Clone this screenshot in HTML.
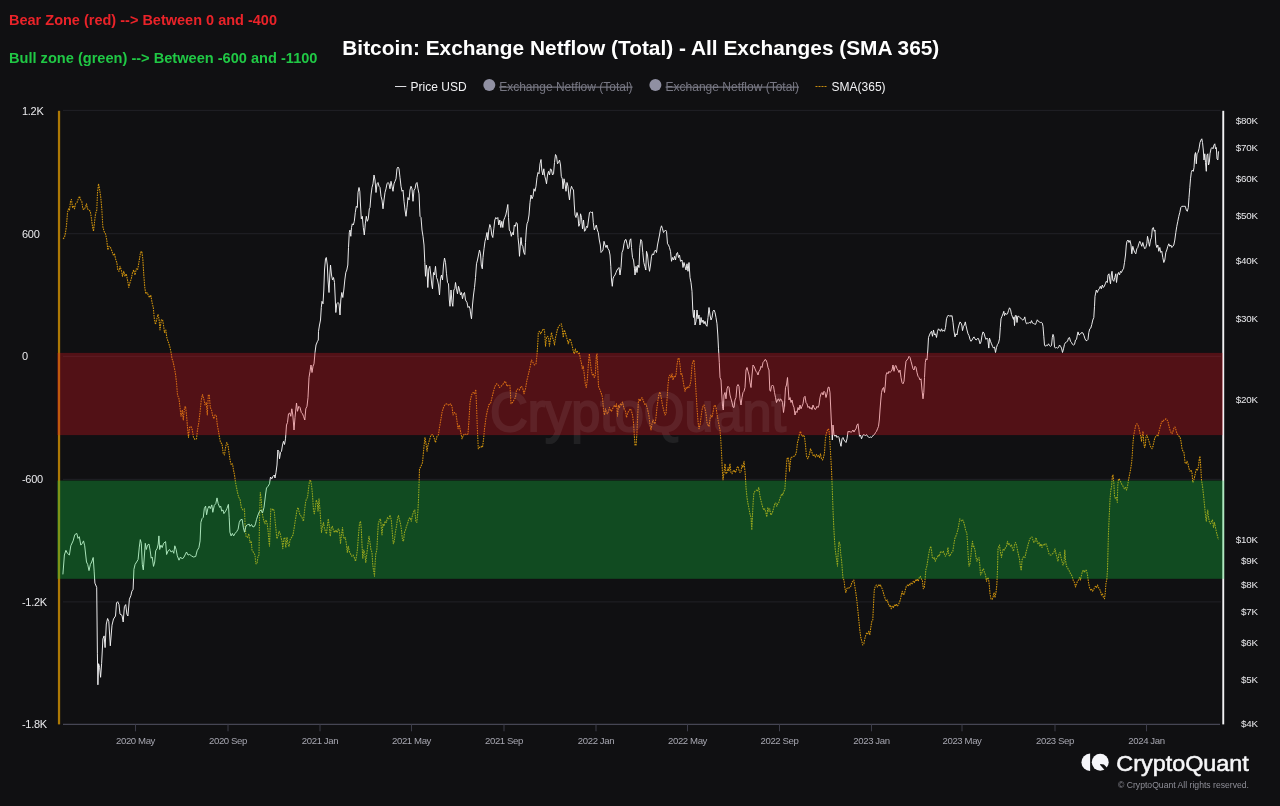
<!DOCTYPE html>
<html><head><meta charset="utf-8"><title>Bitcoin: Exchange Netflow</title>
<style>
html,body{margin:0;padding:0;background:#101012;}
body{width:1280px;height:806px;overflow:hidden;font-family:"Liberation Sans",sans-serif;}
svg{display:block;will-change:transform;}
text{font-family:"Liberation Sans",sans-serif;}
.yl{font-size:11px;fill:#e9e9ec;letter-spacing:-0.3px;}
.yr{font-size:9.8px;fill:#e9e9ec;letter-spacing:-0.22px;text-anchor:end;}
.xl{font-size:9.6px;fill:#a6a6b0;text-anchor:middle;letter-spacing:-0.4px;}
.grid{stroke:#212127;stroke-width:1;}
</style></head><body>
<svg width="1280" height="806" viewBox="0 0 1280 806">
<rect x="0" y="0" width="1280" height="806" fill="#101012"/>

<text x="9" y="24.5" font-size="14.3" font-weight="bold" fill="#ea2329" textLength="268" lengthAdjust="spacingAndGlyphs">Bear Zone (red) --&gt; Between 0 and -400</text>
<text x="9" y="62.6" font-size="14.3" font-weight="bold" fill="#20c845" textLength="308.5" lengthAdjust="spacingAndGlyphs">Bull zone (green) --&gt; Between -600 and -1100</text>
<text x="342.3" y="55" font-size="20.3" font-weight="bold" fill="#ffffff" textLength="597" lengthAdjust="spacingAndGlyphs">Bitcoin: Exchange Netflow (Total) - All Exchanges (SMA 365)</text>
<line x1="395" y1="86.5" x2="406.3" y2="86.5" stroke="#dcdce0" stroke-width="1"/>
<text x="410.6" y="90.8" font-size="12" fill="#f2f2f4">Price USD</text>
<circle cx="489.3" cy="85" r="6" fill="#9090a2"/>
<text x="499.2" y="90.8" font-size="12" fill="#777783" text-decoration="line-through">Exchange Netflow (Total)</text>
<circle cx="655.4" cy="85" r="6" fill="#9090a2"/>
<text x="665.6" y="90.8" font-size="12" fill="#777783" text-decoration="line-through">Exchange Netflow (Total)</text>
<line x1="815.5" y1="86.5" x2="827" y2="86.5" stroke="#c98d0e" stroke-width="1" stroke-dasharray="2 1"/>
<text x="831.6" y="90.8" font-size="12" fill="#f2f2f4">SMA(365)</text>
<line class="grid" x1="63" y1="110.4" x2="1221" y2="110.4"/>
<line class="grid" x1="63" y1="233.7" x2="1221" y2="233.7"/>
<line class="grid" x1="63" y1="356.3" x2="1221" y2="356.3"/>
<line class="grid" x1="63" y1="479.3" x2="1221" y2="479.3"/>
<line class="grid" x1="63" y1="601.9" x2="1221" y2="601.9"/>
<line x1="63" y1="724.4" x2="1220" y2="724.4" stroke="#464654" stroke-width="1.1"/>
<line x1="135.5" y1="724.4" x2="135.5" y2="731.3" stroke="#3c3c49" stroke-width="1"/>
<text class="xl" x="135.5" y="743.9">2020 May</text>
<line x1="228" y1="724.4" x2="228" y2="731.3" stroke="#3c3c49" stroke-width="1"/>
<text class="xl" x="228" y="743.9">2020 Sep</text>
<line x1="320" y1="724.4" x2="320" y2="731.3" stroke="#3c3c49" stroke-width="1"/>
<text class="xl" x="320" y="743.9">2021 Jan</text>
<line x1="411.5" y1="724.4" x2="411.5" y2="731.3" stroke="#3c3c49" stroke-width="1"/>
<text class="xl" x="411.5" y="743.9">2021 May</text>
<line x1="504" y1="724.4" x2="504" y2="731.3" stroke="#3c3c49" stroke-width="1"/>
<text class="xl" x="504" y="743.9">2021 Sep</text>
<line x1="596" y1="724.4" x2="596" y2="731.3" stroke="#3c3c49" stroke-width="1"/>
<text class="xl" x="596" y="743.9">2022 Jan</text>
<line x1="687.5" y1="724.4" x2="687.5" y2="731.3" stroke="#3c3c49" stroke-width="1"/>
<text class="xl" x="687.5" y="743.9">2022 May</text>
<line x1="779.5" y1="724.4" x2="779.5" y2="731.3" stroke="#3c3c49" stroke-width="1"/>
<text class="xl" x="779.5" y="743.9">2022 Sep</text>
<line x1="871.5" y1="724.4" x2="871.5" y2="731.3" stroke="#3c3c49" stroke-width="1"/>
<text class="xl" x="871.5" y="743.9">2023 Jan</text>
<line x1="962" y1="724.4" x2="962" y2="731.3" stroke="#3c3c49" stroke-width="1"/>
<text class="xl" x="962" y="743.9">2023 May</text>
<line x1="1055" y1="724.4" x2="1055" y2="731.3" stroke="#3c3c49" stroke-width="1"/>
<text class="xl" x="1055" y="743.9">2023 Sep</text>
<line x1="1146.5" y1="724.4" x2="1146.5" y2="731.3" stroke="#3c3c49" stroke-width="1"/>
<text class="xl" x="1146.5" y="743.9">2024 Jan</text>
<path d="M63.0 238.8 L64.5 237.5 L65.5 232.5 L66.5 225.5 L67.5 212.5 L68.5 208.8 L69.5 210.0 L70.5 201.3 L71.5 199.5 L72.5 207.5 L73.5 206.3 L74.5 208.8 L75.5 203.8 L77.0 202.5 L78.3 198.8 L79.5 196.3 L80.5 199.5 L81.8 201.3 L82.8 208.8 L84.0 209.5 L85.3 207.5 L86.5 203.8 L87.5 208.8 L89.0 210.0 L90.3 211.3 L91.5 218.8 L92.5 226.3 L93.5 231.3 L94.5 222.5 L95.5 213.8 L96.8 210.0 L97.5 192.5 L98.5 183.8 L99.5 188.8 L100.8 197.5 L101.8 208.8 L102.8 226.3 L104.0 231.3 L105.5 233.8 L106.8 240.0 L107.8 250.0 L109.0 246.3 L110.5 247.5 L112.0 251.3 L113.3 255.0 L114.5 253.8 L115.5 258.8 L116.8 262.5 L117.8 270.0 L119.0 271.3 L120.0 266.3 L121.3 270.0 L122.5 276.3 L123.8 271.3 L125.0 276.3 L126.3 273.8 L127.5 280.0 L128.8 287.5 L130.0 282.5 L131.3 278.8 L132.5 272.5 L133.8 270.0 L135.0 275.0 L136.3 268.8 L137.5 270.0 L138.5 265.0 L139.5 258.8 L140.5 252.5 L141.8 251.3 L142.8 258.8 L143.8 275.0 L144.8 287.5 L145.8 293.8 L147.0 292.5 L148.3 295.0 L149.5 297.5 L150.8 295.0 L152.0 302.5 L153.3 307.5 L154.3 318.8 L155.5 324.5 L156.8 318.8 L158.0 314.5 L159.0 318.8 L160.0 330.0 L161.3 320.0 L162.5 319.5 L163.5 325.0 L164.5 332.5 L165.8 330.0 L166.8 337.5 L168.0 341.3 L169.3 345.0 L170.3 348.8 L171.3 353.8 L172.0 358.8 L173.0 361.3 L174.3 367.5 L175.5 373.8 L176.5 382.5 L177.5 395.0 L179.0 398.8 L180.0 407.5 L181.0 416.3 L182.3 410.0 L183.3 420.0 L184.5 407.5 L185.5 406.3 L186.5 415.0 L187.5 427.5 L188.5 437.5 L189.5 427.5 L191.0 426.3 L192.3 430.0 L193.5 437.5 L195.0 439.5 L196.5 438.8 L197.5 430.0 L198.8 422.5 L200.0 412.5 L201.3 400.0 L202.5 394.5 L203.8 398.8 L205.0 405.0 L206.3 402.5 L207.3 415.0 L208.3 395.0 L209.3 395.0 L210.3 407.5 L211.5 410.0 L212.5 415.0 L213.8 418.8 L215.0 415.0 L216.3 415.5 L217.3 425.0 L218.3 430.0 L219.3 436.3 L220.5 442.5 L222.0 443.8 L223.3 453.8 L224.5 455.0 L225.5 447.5 L226.8 442.5 L228.0 445.0 L229.0 452.5 L230.0 460.0 L231.3 465.0 L232.5 463.8 L233.5 470.0 L234.5 475.0 L235.5 482.5 L236.5 487.5 L237.5 492.5 L238.8 497.5 L240.0 498.8 L241.3 507.5 L243.0 510.0 L244.5 508.8 L245.0 523.8 L246.0 536.3 L247.5 537.5 L248.8 533.8 L250.0 542.5 L251.3 541.3 L252.0 550.0 L253.5 552.5 L255.0 555.0 L255.8 563.8 L257.0 563.8 L258.0 556.3 L259.0 555.0 L259.5 520.0 L260.3 492.5 L261.3 500.0 L262.0 511.3 L263.0 517.5 L264.0 521.3 L265.0 523.8 L266.0 520.0 L267.0 522.5 L268.0 530.0 L269.0 542.5 L269.5 546.3 L270.0 532.5 L270.8 508.8 L272.0 510.0 L273.3 508.8 L274.3 511.3 L275.0 520.0 L276.0 530.0 L276.8 538.8 L278.0 536.3 L279.0 531.3 L280.0 532.5 L281.0 537.5 L282.0 541.3 L282.8 548.8 L283.8 538.8 L284.8 537.5 L285.8 547.5 L287.0 537.5 L288.0 543.8 L289.0 546.3 L290.0 540.0 L291.5 537.5 L293.0 535.0 L294.0 528.8 L295.0 522.5 L296.0 516.3 L297.0 510.0 L298.0 507.5 L299.0 511.3 L300.0 515.0 L301.5 516.3 L302.5 518.8 L303.5 521.3 L304.5 511.3 L305.5 502.5 L306.5 498.8 L307.5 497.5 L308.5 488.8 L309.5 481.3 L310.5 480.0 L311.5 485.0 L312.5 495.0 L313.5 510.0 L314.3 513.8 L315.3 507.5 L316.3 500.0 L317.3 502.5 L318.0 511.3 L319.0 498.8 L320.0 510.0 L320.8 522.5 L321.5 532.5 L322.5 526.3 L323.5 522.5 L324.5 528.8 L325.5 531.3 L326.5 533.8 L327.5 525.0 L328.3 518.8 L329.3 526.3 L330.3 536.3 L331.3 527.5 L332.3 526.3 L333.3 530.0 L334.5 532.5 L335.8 530.0 L337.0 532.5 L338.3 528.8 L339.5 531.3 L340.5 543.8 L341.5 535.0 L342.5 527.5 L343.3 536.3 L344.3 538.8 L345.3 537.5 L346.3 543.8 L347.3 552.5 L348.3 546.3 L349.3 551.3 L350.5 553.8 L351.8 556.3 L353.0 555.0 L354.3 557.5 L355.5 561.3 L356.5 556.3 L357.5 548.8 L358.5 535.0 L359.5 523.8 L360.5 521.3 L361.3 528.8 L362.0 545.0 L362.8 558.8 L363.8 550.0 L364.8 553.8 L365.8 562.5 L366.8 553.8 L367.8 545.0 L369.0 536.3 L370.0 542.5 L371.0 550.0 L372.0 552.5 L372.8 565.0 L373.5 570.0 L374.5 576.3 L375.0 565.0 L375.8 553.8 L376.8 550.0 L377.5 537.5 L378.3 523.8 L379.5 520.0 L380.5 518.8 L381.5 530.0 L382.0 535.0 L383.0 523.8 L384.0 526.3 L385.0 521.3 L386.3 522.5 L387.5 517.5 L388.8 518.8 L390.0 515.0 L391.3 520.0 L392.3 532.5 L393.3 543.8 L394.3 541.3 L395.3 532.5 L396.5 526.3 L397.5 518.8 L398.5 515.5 L399.5 520.0 L400.5 523.8 L401.5 530.0 L402.5 540.0 L403.5 541.3 L404.5 532.5 L405.5 530.0 L406.5 526.3 L407.5 523.8 L408.8 518.8 L410.0 517.5 L411.3 521.3 L412.5 515.0 L413.8 511.3 L414.8 510.0 L415.8 521.3 L416.8 522.5 L417.8 512.5 L418.5 500.0 L419.0 485.0 L419.5 468.8 L421.0 466.3 L422.5 462.5 L423.3 453.8 L424.0 446.3 L425.0 437.5 L426.0 443.8 L427.0 451.3 L428.0 445.0 L429.5 440.0 L431.0 435.0 L432.5 434.5 L434.0 437.5 L435.5 442.5 L437.0 436.3 L438.5 434.5 L439.5 427.5 L440.8 420.0 L442.0 412.5 L443.5 407.5 L445.0 404.5 L447.0 403.8 L449.0 405.5 L450.5 403.8 L452.0 406.3 L453.0 415.0 L454.5 412.5 L456.0 413.8 L457.0 421.3 L458.0 428.8 L459.3 425.0 L460.5 431.3 L462.0 438.8 L463.5 435.0 L465.0 433.8 L466.5 435.0 L468.0 433.8 L469.0 420.0 L470.0 402.5 L471.5 395.0 L473.0 392.5 L474.5 393.8 L475.8 389.5 L476.5 405.0 L477.3 427.5 L478.3 448.8 L479.5 447.5 L481.0 446.3 L482.5 447.5 L483.5 440.0 L484.5 428.8 L486.0 417.5 L487.5 410.0 L489.0 404.5 L490.5 403.8 L492.0 397.5 L493.5 391.3 L495.0 386.3 L496.5 383.8 L498.0 384.5 L499.5 387.5 L501.0 386.3 L502.5 385.0 L504.0 382.5 L505.5 381.3 L507.0 386.3 L508.5 385.0 L510.0 385.5 L511.0 403.8 L512.5 402.5 L514.0 400.0 L515.5 397.5 L516.5 390.0 L518.0 388.8 L519.5 390.0 L521.0 386.3 L522.5 387.5 L524.0 393.8 L525.5 388.8 L527.0 380.0 L528.5 373.8 L530.0 367.5 L531.5 360.0 L533.0 362.5 L534.5 365.0 L536.0 363.8 L537.0 355.0 L538.0 340.0 L538.3 332.5 L539.5 331.3 L540.8 333.8 L542.0 331.3 L543.3 328.8 L544.5 330.0 L545.5 346.3 L546.5 337.5 L547.5 336.3 L548.5 337.5 L549.5 346.3 L550.5 338.8 L551.5 332.5 L552.5 337.5 L553.5 340.0 L554.5 345.0 L555.5 337.5 L556.5 333.8 L557.5 328.8 L558.8 326.3 L560.0 325.0 L561.3 323.8 L562.3 328.8 L563.3 337.5 L564.3 330.0 L565.3 332.5 L566.3 336.3 L567.3 340.0 L568.3 343.8 L569.3 340.0 L570.3 338.8 L571.3 342.5 L572.3 346.3 L573.3 351.3 L574.3 353.8 L575.3 348.8 L576.3 352.5 L577.3 351.3 L578.3 353.8 L579.3 352.5 L580.3 358.8 L581.3 362.5 L582.3 368.8 L583.3 366.3 L584.3 375.0 L585.3 383.8 L586.3 387.5 L587.3 380.0 L588.3 365.0 L589.3 353.8 L590.3 362.5 L591.3 370.0 L592.3 375.0 L593.3 373.8 L594.3 377.5 L595.3 375.0 L596.3 356.3 L597.0 353.8 L597.8 370.0 L598.5 386.3 L599.5 388.8 L600.5 391.3 L601.5 393.8 L602.5 397.5 L603.5 410.0 L604.5 415.0 L605.5 408.8 L606.5 412.5 L607.5 413.8 L608.5 411.3 L609.5 407.5 L610.5 410.0 L611.5 411.3 L612.5 408.8 L613.5 407.5 L614.5 405.0 L615.5 407.5 L616.5 403.8 L617.5 416.3 L618.5 405.0 L619.5 407.5 L620.5 403.8 L621.5 405.0 L622.5 402.0 L623.5 406.3 L624.5 410.0 L625.5 411.3 L626.5 417.5 L627.5 413.8 L628.5 411.3 L629.5 410.0 L630.5 408.8 L631.5 411.3 L632.5 415.0 L633.5 422.5 L634.3 435.0 L635.0 445.0 L636.0 445.5 L636.8 435.0 L637.5 420.0 L638.3 402.5 L639.0 398.8 L640.0 401.3 L641.0 398.8 L642.0 397.5 L643.0 400.0 L644.0 402.5 L645.0 405.0 L646.0 403.8 L647.0 407.5 L648.0 411.3 L649.0 416.3 L650.0 425.0 L651.0 430.0 L652.0 423.8 L653.0 420.0 L654.0 422.5 L655.0 423.8 L656.0 417.5 L657.0 407.5 L658.0 400.0 L659.0 393.8 L660.0 392.0 L661.0 396.3 L662.0 402.5 L663.0 407.5 L664.0 411.3 L665.0 415.0 L666.0 413.8 L667.0 400.0 L668.0 385.0 L669.0 376.3 L670.0 375.0 L671.0 377.5 L672.0 373.8 L673.0 380.0 L674.0 376.3 L675.0 377.5 L676.0 375.0 L677.0 365.0 L678.0 358.8 L679.0 358.0 L680.0 365.0 L681.0 375.0 L682.0 373.8 L683.0 380.0 L684.0 386.3 L685.0 391.3 L686.0 387.5 L687.0 388.8 L688.0 386.3 L689.0 387.5 L690.0 385.0 L691.0 380.0 L692.0 365.0 L693.0 361.3 L694.0 360.0 L695.0 375.0 L696.0 391.3 L697.0 407.5 L698.0 421.3 L699.0 428.8 L700.0 425.0 L701.0 417.5 L702.0 410.0 L703.0 406.3 L704.0 405.0 L705.0 408.8 L706.0 413.8 L707.0 422.5 L708.0 425.0 L709.0 426.3 L710.0 418.8 L711.0 415.0 L712.0 417.5 L713.0 412.5 L714.0 406.3 L715.0 405.0 L716.0 407.5 L717.0 413.8 L718.0 420.0 L719.0 425.0 L720.0 430.0 L720.8 440.0 L721.5 452.5 L722.3 470.0 L723.0 480.0 L724.0 472.5 L725.0 463.8 L726.0 473.8 L727.0 472.5 L728.0 467.5 L729.0 471.3 L730.0 463.8 L731.0 472.5 L732.0 473.8 L733.0 471.3 L734.0 470.0 L735.0 472.5 L736.0 471.3 L737.0 467.5 L738.0 466.3 L739.0 470.0 L740.0 472.5 L741.0 471.3 L742.0 465.0 L743.0 467.5 L744.0 461.3 L745.3 475.0 L746.0 487.5 L747.0 497.5 L748.0 503.8 L749.0 508.8 L750.0 513.8 L751.0 517.5 L751.8 530.0 L752.5 515.0 L753.3 500.0 L754.0 492.5 L755.0 491.3 L756.3 490.0 L757.5 491.3 L758.8 487.5 L759.8 495.0 L760.8 500.0 L761.8 503.8 L762.8 507.5 L763.8 510.0 L764.8 508.8 L765.8 512.5 L766.8 517.0 L767.8 507.5 L768.8 511.3 L769.8 508.8 L770.8 515.0 L771.8 513.8 L772.8 511.3 L773.8 507.5 L774.8 503.8 L775.8 503.0 L776.8 506.3 L777.8 503.8 L778.8 502.5 L779.8 498.8 L780.8 496.3 L781.8 493.8 L782.8 495.0 L783.8 491.3 L784.8 490.0 L785.5 480.0 L786.3 467.5 L787.0 458.8 L788.0 457.5 L788.8 461.3 L789.5 471.3 L790.3 462.5 L791.0 457.5 L792.5 457.0 L794.0 456.3 L795.5 455.0 L796.5 451.3 L797.5 442.5 L798.5 438.8 L799.5 433.8 L800.5 431.3 L801.5 435.0 L802.5 436.3 L803.5 435.0 L804.5 437.0 L805.5 445.0 L806.5 456.3 L807.8 458.8 L808.8 456.3 L809.8 452.5 L810.5 448.8 L811.5 451.3 L812.5 453.8 L813.5 456.3 L814.5 455.0 L815.5 457.0 L816.5 454.5 L817.5 456.3 L818.5 455.0 L819.5 457.5 L820.5 453.8 L821.5 458.8 L822.5 460.0 L823.5 457.5 L824.5 452.5 L825.3 440.0 L826.0 435.0 L827.0 431.3 L828.0 428.8 L829.0 430.0 L829.8 440.0 L830.8 457.5 L831.5 470.0 L832.3 490.0 L833.0 510.0 L833.8 527.5 L834.5 540.0 L835.3 550.0 L836.0 555.0 L836.8 561.3 L837.5 566.3 L838.3 550.0 L839.0 542.0 L840.0 543.8 L840.8 555.0 L841.5 560.0 L842.3 570.0 L843.0 578.8 L844.0 580.0 L844.8 587.5 L845.8 592.5 L846.8 588.8 L847.8 587.5 L848.8 588.0 L849.8 587.5 L850.8 586.3 L851.8 582.5 L852.8 581.3 L853.8 580.0 L854.8 586.3 L855.8 592.5 L856.8 600.0 L857.8 610.0 L858.8 620.0 L859.8 630.0 L860.8 637.5 L861.8 641.3 L862.8 645.0 L863.8 643.8 L864.8 638.8 L865.8 635.0 L866.8 632.5 L867.8 633.8 L868.8 631.3 L869.8 635.0 L870.8 627.5 L871.8 621.3 L872.8 620.0 L873.5 605.0 L874.3 590.0 L875.3 586.3 L876.3 585.0 L877.3 587.0 L878.3 585.0 L879.3 586.3 L880.3 584.5 L881.3 587.5 L882.3 588.8 L883.3 592.5 L884.3 596.3 L885.3 598.8 L886.3 601.3 L887.3 600.0 L888.3 603.8 L889.3 606.3 L890.3 605.0 L891.3 608.8 L892.3 606.3 L893.3 607.5 L894.3 605.0 L895.3 606.3 L896.3 603.8 L897.3 606.3 L898.3 605.0 L899.3 602.5 L900.3 600.0 L901.3 595.0 L902.3 591.3 L903.3 595.0 L904.3 593.8 L905.3 590.0 L906.3 586.3 L907.3 585.0 L908.3 586.3 L909.3 583.8 L910.3 585.0 L911.3 582.5 L912.3 583.8 L913.3 581.3 L914.3 582.5 L915.3 580.0 L916.3 581.3 L917.3 578.8 L918.3 581.3 L919.3 577.5 L920.3 576.3 L921.3 578.8 L922.3 580.0 L923.3 588.8 L924.3 587.5 L925.0 580.0 L925.8 570.0 L926.8 566.3 L927.8 560.0 L928.8 553.8 L929.8 548.8 L930.8 546.3 L931.5 550.0 L932.3 557.5 L933.3 558.8 L934.3 557.5 L935.3 561.3 L936.3 558.8 L937.3 557.5 L938.3 555.0 L939.3 556.3 L940.3 552.5 L941.3 551.3 L942.3 552.5 L943.3 551.3 L944.3 553.8 L945.3 556.3 L946.3 555.0 L947.3 552.5 L948.0 547.5 L948.8 555.0 L949.8 556.3 L950.8 553.8 L951.8 552.5 L952.8 551.3 L953.8 545.0 L954.8 538.8 L955.8 536.3 L956.8 533.8 L957.8 530.0 L958.8 525.0 L959.8 518.8 L960.8 520.0 L961.8 521.3 L962.8 520.0 L963.8 522.5 L964.8 526.3 L965.8 531.3 L966.8 532.5 L967.5 542.5 L968.3 557.5 L969.0 566.3 L970.0 563.8 L971.0 555.0 L971.8 546.3 L972.5 541.3 L973.3 547.5 L974.0 546.3 L975.0 550.0 L976.0 557.5 L977.0 561.3 L978.0 558.8 L979.0 557.5 L979.8 565.0 L980.5 575.0 L981.5 573.8 L982.5 570.0 L983.5 568.8 L984.5 572.5 L985.5 575.0 L986.5 581.3 L987.5 577.5 L988.5 578.8 L989.3 585.0 L990.0 593.8 L991.0 598.8 L992.0 599.5 L993.0 597.5 L994.0 592.5 L995.0 597.5 L996.0 592.5 L996.8 585.0 L997.5 570.0 L998.0 548.8 L998.8 546.3 L999.5 545.0 L1000.5 552.5 L1001.5 557.5 L1002.5 551.3 L1003.5 548.8 L1004.5 550.0 L1005.5 547.5 L1006.5 546.3 L1007.5 541.3 L1008.5 545.0 L1009.5 543.8 L1010.5 546.3 L1011.5 545.0 L1012.5 548.8 L1013.5 551.3 L1014.5 545.0 L1015.5 542.5 L1016.5 545.0 L1017.5 550.0 L1018.5 555.0 L1019.5 558.8 L1020.5 567.5 L1021.3 570.5 L1022.0 560.0 L1023.0 557.5 L1024.0 556.3 L1025.0 557.5 L1026.0 552.5 L1027.0 548.8 L1028.0 545.0 L1029.0 541.3 L1030.0 538.8 L1031.0 537.5 L1032.0 537.0 L1033.0 540.0 L1034.0 542.5 L1035.0 541.3 L1036.0 537.5 L1037.0 541.3 L1038.0 543.8 L1039.0 542.5 L1040.0 546.3 L1041.0 543.8 L1042.0 547.5 L1043.0 545.0 L1044.0 543.8 L1045.0 545.0 L1046.0 543.8 L1047.0 546.3 L1048.0 550.0 L1049.0 553.8 L1050.0 555.0 L1051.3 555.0 L1052.5 553.8 L1053.8 552.5 L1055.0 548.8 L1056.0 553.8 L1057.0 557.5 L1058.0 561.3 L1059.0 553.8 L1060.0 552.5 L1061.0 557.5 L1062.0 561.3 L1063.0 565.0 L1064.0 562.5 L1064.8 550.0 L1065.5 560.0 L1066.5 566.3 L1067.5 567.5 L1068.5 570.0 L1069.5 571.3 L1070.5 573.8 L1071.5 575.0 L1072.5 577.5 L1073.5 581.3 L1074.5 582.5 L1075.5 587.0 L1076.5 583.8 L1077.5 581.3 L1078.5 580.0 L1079.5 577.5 L1080.5 580.0 L1081.5 575.0 L1082.5 571.3 L1083.5 570.0 L1084.5 572.5 L1085.5 570.0 L1086.5 570.5 L1087.5 575.0 L1088.5 582.5 L1089.5 587.5 L1090.5 590.0 L1091.5 588.8 L1092.5 591.3 L1093.5 590.0 L1094.5 587.5 L1095.5 586.3 L1096.5 587.5 L1097.5 585.0 L1098.5 587.5 L1099.5 588.8 L1100.5 591.3 L1101.5 595.0 L1102.5 593.8 L1103.5 597.5 L1104.5 598.8 L1105.3 592.5 L1106.0 582.5 L1106.8 580.0 L1107.5 570.0 L1108.0 550.0 L1108.5 532.5 L1109.3 515.0 L1110.0 500.0 L1110.8 490.0 L1111.5 487.5 L1112.3 476.3 L1113.0 475.0 L1113.8 482.5 L1114.5 496.3 L1115.5 498.8 L1116.5 497.5 L1117.3 502.5 L1117.8 485.0 L1118.5 478.8 L1119.5 479.5 L1120.5 481.3 L1121.5 483.8 L1122.5 485.0 L1123.5 487.5 L1124.5 488.8 L1125.5 487.5 L1126.5 490.0 L1127.5 486.3 L1128.5 480.0 L1129.5 475.0 L1130.5 470.0 L1131.5 463.8 L1132.3 455.0 L1133.0 442.5 L1133.8 435.0 L1134.8 430.0 L1135.8 425.0 L1136.8 423.8 L1137.8 424.5 L1138.8 427.5 L1139.8 432.5 L1140.8 436.3 L1141.5 441.3 L1142.3 435.0 L1143.0 431.3 L1143.8 442.5 L1144.5 447.5 L1145.3 446.3 L1146.0 436.3 L1147.0 435.0 L1148.0 438.8 L1149.0 441.3 L1150.0 445.0 L1151.0 447.5 L1152.0 448.8 L1153.0 446.3 L1154.0 441.3 L1155.0 437.5 L1156.0 436.3 L1157.0 435.0 L1158.0 436.3 L1159.0 431.3 L1160.0 427.5 L1161.0 423.8 L1162.0 421.3 L1163.0 422.0 L1164.0 420.0 L1165.0 419.5 L1166.0 418.8 L1167.0 420.0 L1168.0 421.3 L1169.0 426.3 L1170.0 430.0 L1171.0 432.5 L1172.0 433.8 L1173.0 431.3 L1174.0 427.5 L1175.0 427.0 L1176.0 430.0 L1177.0 433.8 L1178.0 435.0 L1179.0 436.3 L1180.0 437.0 L1181.0 441.3 L1182.0 448.8 L1183.0 451.3 L1184.0 452.5 L1185.0 462.5 L1186.0 463.8 L1187.0 461.3 L1188.0 463.8 L1189.0 468.8 L1190.0 471.3 L1191.0 470.0 L1192.0 472.5 L1192.8 482.5 L1193.5 481.3 L1194.5 477.5 L1195.5 472.5 L1196.5 468.8 L1197.5 470.0 L1198.5 466.3 L1199.3 458.8 L1200.0 456.3 L1200.8 467.5 L1201.5 480.0 L1202.5 486.3 L1203.5 495.0 L1204.5 505.0 L1205.5 515.0 L1206.3 521.3 L1207.0 515.0 L1207.8 510.0 L1208.5 517.5 L1209.5 522.5 L1210.5 523.8 L1211.5 521.3 L1212.5 520.0 L1213.5 527.5 L1214.5 522.5 L1215.5 527.5 L1216.5 532.5 L1217.5 536.3 L1218.5 539.5" fill="none" stroke="#d2950e" stroke-width="1.05" stroke-dasharray="1.6 0.9" stroke-linejoin="round"/>
<path d="M62.9 574.4 L64.4 555.0 L65.9 550.3 L67.4 553.3 L69.4 555.0 L70.8 545.8 L73.1 540.9 L74.8 534.7 L76.8 533.4 L78.0 538.4 L79.3 536.7 L80.8 545.1 L82.3 543.4 L83.5 540.9 L84.7 545.8 L86.5 562.0 L87.7 564.4 L89.0 570.6 L90.4 564.4 L91.7 562.0 L93.2 557.5 L94.2 571.9 L94.9 583.1 L96.7 587.3 L97.4 653.8 L97.9 684.8 L98.6 663.7 L99.6 667.4 L100.6 677.3 L101.6 663.7 L102.9 638.9 L104.1 635.9 L105.1 647.6 L106.3 624.0 L107.6 618.5 L108.8 621.5 L110.3 645.8 L112.0 625.2 L113.5 619.0 L115.5 616.0 L116.5 602.9 L117.7 601.7 L119.0 604.6 L120.0 614.1 L122.0 615.3 L123.2 622.0 L124.4 606.6 L125.7 604.6 L126.9 614.1 L127.9 616.0 L129.4 599.2 L130.9 595.5 L131.9 591.2 L133.1 589.3 L133.9 569.4 L135.1 564.4 L136.6 562.0 L138.1 559.5 L139.3 547.1 L140.3 539.6 L141.3 543.3 L142.3 564.4 L143.3 569.9 L144.3 557.0 L145.3 543.3 L146.3 549.5 L147.5 545.1 L149.0 544.1 L150.2 550.8 L151.2 558.2 L152.2 557.0 L153.5 566.4 L154.7 562.0 L155.7 550.8 L157.2 548.3 L158.2 544.1 L158.9 535.9 L159.7 549.5 L160.9 545.1 L162.2 547.6 L163.6 543.3 L165.6 541.6 L166.6 554.5 L168.1 550.8 L169.6 549.5 L171.1 552.0 L172.6 550.8 L173.8 553.3 L174.8 545.8 L176.1 549.5 L177.3 555.8 L179.0 560.2 L180.5 557.0 L182.3 559.0 L184.0 557.0 L185.5 554.0 L186.5 552.0 L188.0 555.0 L189.7 554.5 L191.4 555.8 L193.4 557.0 L195.7 556.5 L197.1 550.8 L198.9 547.6 L200.1 540.9 L200.9 522.3 L202.1 518.5 L203.3 517.3 L204.3 508.6 L205.6 506.1 L206.6 514.8 L207.8 508.6 L209.1 506.1 L210.3 508.6 L211.8 504.9 L212.8 512.3 L214.3 505.4 L215.8 503.6 L217.0 497.9 L218.2 503.6 L219.7 507.4 L220.7 506.1 L221.7 511.1 L223.0 509.9 L223.9 513.6 L225.7 511.1 L226.9 508.6 L228.4 504.4 L229.2 517.3 L229.9 532.2 L231.1 535.9 L232.4 533.4 L233.6 535.9 L235.1 533.4 L236.6 531.7 L238.1 529.2 L239.3 522.3 L240.6 519.8 L242.1 519.3 L243.3 527.2 L244.5 532.2 L246.0 526.0 L247.5 524.7 L249.3 524.2 L250.0 526.3 L251.5 524.5 L253.0 527.0 L254.5 526.3 L255.5 523.8 L256.5 519.5 L258.0 515.0 L259.5 511.3 L261.0 510.0 L262.5 513.0 L264.0 507.5 L265.5 495.0 L266.5 488.0 L268.0 486.3 L269.5 483.8 L270.5 477.0 L271.8 478.8 L273.0 476.3 L274.3 475.0 L275.0 478.0 L276.0 472.5 L277.0 465.0 L277.8 450.0 L278.8 451.3 L279.5 458.8 L280.5 452.5 L281.5 451.3 L282.5 445.0 L283.5 441.3 L284.5 444.5 L285.5 438.8 L286.5 425.0 L287.5 422.5 L288.5 413.8 L289.8 413.0 L290.8 416.3 L291.8 408.8 L292.8 415.0 L294.0 430.0 L295.0 417.5 L296.5 403.0 L297.5 411.3 L298.8 406.3 L300.0 407.5 L301.3 412.5 L302.5 413.8 L303.5 416.3 L304.8 420.0 L305.8 408.8 L307.0 406.3 L308.0 397.5 L309.0 377.5 L310.0 371.3 L311.0 365.0 L312.0 372.5 L313.0 366.3 L314.0 363.8 L315.0 352.5 L316.0 345.0 L317.5 341.3 L318.3 340.0 L318.5 331.3 L319.5 325.0 L320.5 320.0 L321.3 307.5 L322.0 301.3 L323.0 303.8 L323.8 290.0 L324.5 270.0 L325.5 258.8 L326.3 257.5 L327.3 265.0 L328.0 280.0 L329.0 292.5 L329.8 275.0 L330.5 265.0 L331.5 275.0 L332.5 280.0 L333.5 277.5 L334.5 282.5 L335.3 300.0 L335.8 312.5 L336.8 303.8 L338.0 302.5 L339.0 303.8 L340.0 315.0 L340.8 300.0 L341.8 292.5 L342.8 297.5 L343.8 290.0 L344.8 280.0 L345.8 272.5 L346.8 270.0 L347.8 265.0 L348.5 247.5 L349.3 232.5 L350.0 230.0 L350.8 236.3 L351.5 227.5 L352.3 223.8 L353.3 225.0 L354.3 221.3 L355.3 212.5 L356.3 206.3 L357.3 207.5 L358.0 192.5 L359.0 187.5 L359.8 191.3 L360.5 205.0 L361.3 218.8 L362.3 216.3 L363.3 227.5 L364.3 235.0 L365.3 223.8 L366.3 216.3 L367.3 221.3 L368.3 218.8 L369.3 208.8 L370.0 207.5 L371.0 195.0 L372.0 187.5 L373.0 183.8 L374.0 175.0 L375.0 180.0 L376.0 192.5 L377.0 183.8 L378.0 182.5 L379.0 186.3 L380.0 187.5 L381.0 196.3 L382.0 200.0 L383.0 208.8 L384.0 200.0 L385.0 192.5 L386.0 188.8 L387.0 183.8 L388.0 182.5 L389.0 183.8 L390.0 188.8 L391.0 181.3 L392.0 186.3 L393.0 191.3 L394.0 183.8 L395.0 181.3 L396.0 178.8 L397.0 168.8 L398.0 167.0 L399.0 168.8 L400.0 177.5 L401.0 186.3 L402.0 191.3 L403.0 190.0 L404.0 201.3 L405.0 210.0 L406.0 216.3 L407.0 207.5 L408.0 197.5 L409.0 200.0 L410.0 190.0 L411.0 186.3 L412.0 188.8 L413.0 201.3 L414.0 190.0 L415.0 188.8 L416.0 183.8 L417.0 182.5 L418.0 188.8 L419.0 193.8 L420.0 216.3 L421.0 217.5 L422.0 230.0 L423.0 236.3 L424.0 245.0 L424.8 262.5 L425.5 276.3 L426.3 265.0 L427.0 270.0 L427.8 287.5 L428.8 268.8 L429.8 266.3 L430.8 275.0 L431.8 285.0 L432.5 288.8 L433.5 272.5 L434.5 275.0 L435.5 266.3 L436.5 277.5 L437.5 280.0 L438.5 285.0 L439.5 295.0 L440.5 278.8 L441.5 275.0 L442.5 280.0 L443.5 265.0 L444.5 258.0 L445.5 262.5 L446.5 273.8 L447.5 282.5 L448.5 283.8 L449.3 300.0 L450.0 306.3 L451.0 290.0 L452.0 302.5 L452.8 306.3 L453.8 290.0 L454.8 288.8 L455.5 282.5 L456.5 288.8 L457.5 293.8 L458.5 286.3 L459.5 290.0 L460.5 295.0 L461.5 292.5 L462.5 298.8 L463.5 293.8 L464.5 292.5 L465.5 300.0 L467.0 302.5 L468.0 307.5 L469.0 306.3 L470.0 308.8 L470.8 315.0 L471.5 318.8 L472.5 305.0 L473.5 295.0 L474.5 287.5 L475.5 277.5 L476.5 263.8 L477.5 260.0 L478.5 255.0 L479.5 250.0 L480.5 253.8 L481.3 265.0 L482.3 268.8 L483.0 257.5 L484.0 248.8 L485.0 241.3 L486.0 237.5 L487.0 232.5 L487.8 240.0 L488.8 230.0 L489.8 224.5 L490.8 227.5 L491.8 235.0 L492.8 237.5 L493.8 228.8 L494.8 220.0 L495.8 217.5 L496.8 218.8 L497.8 217.5 L498.8 225.0 L499.8 220.0 L500.8 227.5 L501.8 221.3 L502.8 227.5 L503.8 220.0 L504.8 217.5 L505.8 215.0 L506.8 210.0 L507.8 204.5 L508.5 217.5 L509.3 230.0 L510.3 231.3 L511.3 236.3 L512.3 232.5 L513.3 235.0 L514.3 225.0 L515.3 226.3 L516.3 222.5 L517.3 223.8 L518.0 237.5 L518.8 245.0 L519.5 256.3 L520.3 245.0 L521.0 237.5 L521.8 245.0 L522.8 246.3 L523.8 252.5 L524.8 254.5 L525.5 242.5 L526.3 230.0 L527.0 223.8 L528.0 221.3 L529.0 215.0 L530.0 202.5 L531.0 195.0 L532.0 198.8 L533.0 196.3 L534.0 188.8 L535.0 191.3 L536.0 186.3 L537.0 177.5 L538.0 172.5 L539.0 173.8 L540.0 163.8 L541.0 159.5 L541.8 170.0 L542.8 175.0 L543.8 168.8 L544.8 176.3 L545.8 180.0 L546.5 183.8 L547.5 175.0 L548.5 171.3 L549.5 175.0 L550.5 168.8 L551.5 170.0 L552.5 175.0 L553.5 173.8 L554.5 162.5 L555.5 154.5 L556.5 156.3 L557.5 163.8 L558.5 162.5 L559.5 160.0 L560.5 165.0 L561.3 176.3 L562.3 178.8 L563.0 188.8 L564.0 178.8 L565.0 183.8 L566.0 191.3 L567.0 182.5 L568.0 186.3 L568.8 195.0 L569.5 200.0 L570.5 190.0 L571.5 186.3 L572.5 188.8 L573.5 190.0 L574.3 205.0 L575.0 215.0 L576.0 217.5 L577.0 212.5 L578.0 216.3 L578.8 226.3 L579.8 223.8 L580.5 213.8 L581.5 217.5 L582.5 228.8 L583.5 220.0 L584.5 231.3 L585.5 230.0 L586.5 226.3 L587.5 227.5 L588.5 220.0 L589.5 212.5 L590.5 212.0 L591.5 212.5 L592.5 212.0 L593.3 222.5 L594.3 230.0 L595.3 227.5 L596.3 225.0 L597.3 230.0 L598.3 232.5 L599.3 240.0 L600.3 245.0 L601.0 252.5 L602.0 251.3 L603.0 250.0 L604.0 241.3 L605.0 245.0 L606.0 247.5 L607.0 245.0 L608.0 248.8 L609.0 250.0 L610.0 255.0 L610.8 266.3 L611.5 280.0 L612.3 286.3 L613.0 278.8 L614.0 276.3 L615.0 275.0 L616.0 272.5 L617.0 270.0 L618.0 268.8 L619.0 267.5 L620.0 275.0 L621.0 267.5 L622.0 252.5 L623.0 250.0 L624.0 243.8 L625.0 240.0 L626.0 239.5 L627.0 243.8 L628.0 248.8 L629.0 247.5 L630.0 240.0 L630.8 238.8 L631.5 247.5 L632.5 257.5 L633.5 260.0 L634.5 268.8 L635.0 275.0 L636.0 266.3 L637.0 272.5 L638.0 265.0 L639.0 267.5 L639.8 247.5 L640.8 239.5 L641.8 241.3 L642.8 252.5 L643.8 262.5 L644.8 266.3 L645.8 270.0 L646.5 251.3 L647.5 255.0 L648.5 265.0 L649.5 271.3 L650.5 265.0 L651.5 256.3 L652.5 253.8 L653.5 255.0 L654.5 251.3 L655.5 250.0 L656.5 252.5 L657.5 245.0 L658.5 240.0 L659.5 235.0 L660.5 228.8 L661.5 225.8 L662.5 228.8 L663.5 232.5 L664.5 231.3 L665.5 230.0 L666.5 231.3 L667.5 243.8 L668.5 245.0 L669.5 247.5 L670.5 251.3 L671.5 261.3 L672.5 257.5 L673.5 260.0 L674.5 256.3 L675.5 260.0 L676.5 253.8 L677.5 252.5 L678.5 257.5 L679.5 255.0 L680.5 261.3 L682.0 260.0 L683.0 267.5 L684.0 262.5 L685.0 266.3 L686.0 270.0 L687.0 263.8 L688.0 271.3 L689.0 262.5 L690.0 277.5 L691.0 282.5 L692.0 291.3 L692.8 310.0 L693.5 317.5 L694.3 310.0 L695.0 325.0 L696.0 321.3 L697.0 310.0 L698.0 318.8 L699.0 315.0 L700.0 325.0 L701.0 317.5 L702.0 322.5 L703.0 320.0 L704.0 323.8 L705.0 321.3 L706.0 325.0 L707.0 326.3 L708.0 317.5 L709.0 307.5 L710.0 315.0 L711.0 320.0 L712.0 317.5 L713.0 311.3 L714.0 310.0 L715.0 312.5 L716.0 317.5 L717.0 323.8 L717.8 335.0 L718.5 348.8 L719.3 362.5 L720.0 377.5 L721.0 380.0 L721.8 395.0 L722.5 406.3 L723.3 410.0 L724.0 395.0 L725.0 392.5 L726.0 398.8 L727.0 388.8 L728.0 386.3 L729.0 387.5 L730.0 395.0 L731.0 398.8 L732.0 402.5 L733.0 407.0 L734.0 407.5 L735.0 400.0 L736.0 397.5 L737.0 386.3 L738.0 384.5 L739.0 386.3 L740.0 398.8 L741.0 405.0 L742.0 397.5 L743.0 392.5 L744.0 391.3 L745.0 387.5 L746.0 370.0 L747.0 367.5 L748.0 371.3 L749.0 375.0 L750.0 382.5 L751.0 387.5 L752.0 375.0 L753.0 365.0 L754.0 366.3 L755.0 368.8 L756.0 371.3 L757.0 372.5 L758.0 375.0 L759.0 371.3 L760.0 370.0 L761.0 366.3 L762.0 367.5 L763.0 362.5 L764.0 361.3 L765.0 359.5 L766.0 360.0 L767.0 362.5 L768.0 367.5 L769.0 370.0 L769.8 390.0 L770.5 391.3 L771.5 386.3 L772.5 385.0 L773.5 386.3 L774.5 392.5 L775.5 397.5 L776.5 402.5 L777.5 400.0 L778.5 398.8 L779.5 401.3 L780.5 398.8 L781.5 400.0 L782.5 402.5 L783.5 412.5 L784.5 405.0 L785.5 387.5 L786.5 385.0 L787.5 377.5 L788.3 390.0 L789.0 400.0 L790.0 397.5 L791.0 402.5 L792.0 400.0 L793.0 405.0 L794.0 407.5 L795.0 415.0 L796.0 411.3 L797.0 412.5 L798.0 407.5 L799.0 410.0 L800.0 405.0 L801.0 408.8 L802.0 406.3 L803.0 403.8 L804.0 397.5 L805.0 396.3 L806.0 402.5 L807.0 403.8 L808.0 407.5 L809.0 406.3 L810.0 408.8 L811.0 407.5 L812.0 409.5 L813.0 405.0 L814.0 407.5 L815.0 409.5 L816.0 408.8 L817.0 406.3 L818.0 407.5 L819.0 405.0 L820.0 397.5 L821.0 393.8 L822.0 392.5 L823.0 395.0 L824.0 391.3 L825.0 392.5 L826.0 397.5 L827.0 393.8 L828.0 387.5 L829.0 387.0 L830.0 392.5 L830.8 410.0 L831.5 425.0 L832.3 440.0 L833.0 425.0 L834.0 435.0 L835.0 436.3 L836.0 435.0 L837.0 437.5 L838.0 436.3 L839.0 437.5 L840.0 442.5 L841.0 446.3 L842.0 438.8 L843.0 437.5 L844.0 440.0 L845.0 441.3 L846.0 442.5 L847.0 438.8 L848.0 431.3 L849.0 432.0 L850.0 431.3 L851.0 432.5 L852.0 431.3 L853.0 430.0 L854.0 432.0 L855.0 430.0 L856.0 428.8 L857.0 425.0 L858.0 423.8 L858.8 430.0 L859.5 436.3 L860.5 435.0 L861.5 438.8 L862.5 436.3 L863.5 434.5 L864.5 435.0 L865.5 435.5 L866.5 434.5 L867.5 436.3 L868.5 437.0 L869.5 437.5 L870.5 437.0 L871.5 437.5 L872.5 436.3 L873.5 435.0 L874.5 434.5 L875.5 432.5 L876.5 431.3 L877.5 428.8 L878.5 426.3 L879.3 420.0 L880.0 410.0 L880.8 400.0 L881.5 392.5 L882.5 388.8 L883.5 387.5 L884.5 392.5 L885.3 385.0 L886.0 375.0 L887.0 372.5 L888.0 373.8 L889.0 371.3 L890.0 372.5 L891.0 371.3 L892.0 370.0 L893.0 365.0 L894.0 371.3 L895.0 366.3 L896.0 365.5 L897.0 368.8 L898.0 370.0 L899.0 372.5 L900.0 370.0 L901.0 377.5 L902.0 382.5 L903.0 383.8 L904.0 381.3 L905.0 370.0 L906.0 361.3 L907.0 360.0 L908.0 358.8 L909.0 356.3 L910.0 357.5 L911.0 361.3 L912.0 365.0 L913.0 368.8 L914.0 370.0 L915.0 366.3 L916.0 367.5 L917.0 372.5 L918.0 376.3 L919.0 377.5 L920.0 380.0 L921.0 378.8 L922.0 390.0 L923.0 398.8 L923.8 392.5 L924.5 377.5 L925.3 362.5 L926.0 358.8 L927.0 360.0 L927.8 350.0 L928.5 337.5 L929.5 335.0 L930.5 332.5 L931.5 331.3 L932.5 336.3 L933.5 330.0 L934.5 335.0 L935.5 333.8 L936.5 337.5 L937.5 331.3 L938.5 328.8 L939.5 330.0 L940.5 331.3 L941.5 328.8 L942.5 331.3 L943.5 330.0 L944.5 331.3 L945.5 327.5 L946.5 318.8 L947.5 316.3 L948.5 315.0 L949.5 316.3 L950.0 315.6 L951.0 316.3 L952.0 315.6 L953.0 322.5 L954.0 331.3 L955.0 336.9 L956.0 333.8 L957.0 335.0 L958.0 328.8 L959.0 325.0 L960.0 321.9 L961.0 323.1 L961.8 325.0 L962.5 330.6 L963.5 326.3 L964.5 325.0 L965.3 321.9 L966.0 325.6 L967.0 330.0 L968.0 333.8 L969.0 335.6 L970.0 339.4 L971.0 341.3 L972.0 340.0 L973.0 338.1 L974.0 336.9 L975.0 338.8 L976.0 340.0 L977.0 339.4 L978.0 338.1 L979.0 340.0 L980.0 343.8 L981.0 341.9 L982.0 335.6 L983.0 331.9 L984.0 333.1 L985.0 336.9 L986.0 339.4 L987.0 338.1 L987.8 339.4 L988.8 348.1 L989.5 338.1 L990.5 341.3 L991.5 343.8 L992.5 346.3 L993.5 348.1 L994.5 346.9 L995.5 352.5 L996.5 347.5 L997.5 344.4 L998.5 343.1 L999.5 338.8 L1000.3 327.5 L1001.0 318.8 L1002.0 316.3 L1003.0 313.8 L1003.8 311.3 L1004.5 315.6 L1005.5 313.1 L1006.5 314.4 L1007.5 313.8 L1008.5 310.6 L1009.5 307.8 L1010.5 309.4 L1011.5 314.4 L1012.5 316.9 L1013.5 319.4 L1014.0 316.9 L1014.5 325.6 L1015.3 315.6 L1016.3 315.6 L1017.0 322.5 L1017.8 316.3 L1018.8 316.3 L1019.8 317.5 L1020.8 318.1 L1021.8 319.4 L1022.8 320.0 L1023.8 319.4 L1024.8 316.9 L1025.5 321.3 L1026.5 323.8 L1027.5 323.1 L1028.5 323.1 L1029.5 322.5 L1030.5 323.1 L1031.5 320.6 L1032.5 323.1 L1033.5 323.5 L1034.5 324.0 L1035.5 324.4 L1036.3 322.5 L1037.3 319.8 L1038.3 321.3 L1039.3 321.9 L1040.3 322.5 L1041.3 322.3 L1042.3 323.1 L1043.0 326.3 L1043.8 336.3 L1044.5 345.0 L1045.5 346.3 L1046.5 345.0 L1047.5 345.6 L1048.5 343.8 L1049.5 345.6 L1050.5 346.3 L1051.5 345.6 L1052.3 337.5 L1053.0 334.4 L1053.8 336.9 L1054.5 346.9 L1055.5 348.1 L1056.5 347.5 L1057.5 348.1 L1058.5 347.5 L1059.5 345.0 L1060.5 346.3 L1061.5 348.1 L1062.5 352.5 L1063.5 348.8 L1064.5 344.4 L1065.5 342.5 L1066.5 341.9 L1067.5 341.3 L1068.5 338.1 L1069.5 337.5 L1070.5 341.3 L1071.5 342.5 L1072.5 344.4 L1073.5 345.0 L1074.5 344.4 L1075.5 340.0 L1076.5 339.4 L1077.3 335.0 L1078.0 331.9 L1079.0 335.0 L1080.0 334.4 L1081.0 333.1 L1082.0 332.5 L1083.0 333.1 L1084.0 335.6 L1085.0 338.8 L1086.0 340.6 L1087.0 340.6 L1088.0 339.4 L1088.8 332.5 L1089.8 328.8 L1090.8 328.1 L1091.8 324.4 L1092.8 320.0 L1093.8 317.5 L1094.5 306.3 L1095.0 296.3 L1096.3 290.0 L1097.3 292.5 L1098.3 290.0 L1099.3 288.8 L1100.3 286.3 L1101.3 288.8 L1102.3 285.0 L1103.3 287.5 L1104.3 286.3 L1105.3 283.8 L1106.3 281.3 L1107.3 282.5 L1108.0 275.0 L1109.0 273.8 L1109.8 280.0 L1110.5 283.8 L1111.3 275.0 L1112.0 271.3 L1112.8 280.0 L1113.8 281.3 L1114.8 277.5 L1115.8 273.8 L1116.5 282.5 L1117.5 275.0 L1118.5 272.5 L1119.5 275.0 L1120.5 271.3 L1121.5 272.5 L1122.5 270.0 L1123.5 268.8 L1124.5 262.5 L1125.5 255.0 L1126.3 245.0 L1127.0 241.3 L1128.0 240.0 L1129.0 242.5 L1130.0 240.5 L1131.0 245.0 L1131.8 253.8 L1132.8 246.3 L1133.8 250.0 L1134.8 252.5 L1135.8 253.8 L1136.8 248.8 L1137.8 247.5 L1138.8 243.8 L1139.8 241.3 L1140.8 243.8 L1141.8 246.3 L1142.8 242.5 L1143.8 246.3 L1144.8 248.8 L1145.8 247.5 L1146.8 243.8 L1147.5 236.3 L1148.5 241.3 L1149.5 246.3 L1150.5 240.0 L1151.5 237.5 L1152.3 228.8 L1153.3 227.5 L1154.3 231.3 L1155.0 230.0 L1155.8 243.8 L1156.8 247.5 L1157.8 245.0 L1158.8 251.3 L1159.8 247.5 L1160.8 252.5 L1161.8 251.3 L1162.8 257.5 L1163.8 262.5 L1164.8 260.0 L1165.8 252.5 L1166.8 250.0 L1167.8 246.3 L1168.8 243.8 L1169.8 246.3 L1170.8 245.0 L1171.8 247.5 L1172.8 246.3 L1173.8 245.0 L1174.8 240.0 L1175.8 232.5 L1176.8 226.3 L1177.8 221.3 L1178.8 216.3 L1179.8 212.5 L1180.8 207.5 L1181.8 206.3 L1183.8 206.3 L1185.3 206.3 L1186.3 210.0 L1187.3 211.3 L1188.3 207.5 L1189.0 197.5 L1189.8 187.5 L1190.5 178.8 L1191.3 172.5 L1192.3 170.0 L1193.3 171.3 L1194.0 167.5 L1194.8 155.0 L1195.5 152.5 L1196.3 163.8 L1197.0 153.8 L1198.0 152.5 L1199.0 148.8 L1200.0 142.5 L1201.0 140.0 L1201.8 138.8 L1202.5 142.5 L1203.3 150.0 L1204.0 160.0 L1204.8 153.8 L1205.5 162.5 L1206.3 171.3 L1207.0 155.0 L1207.8 153.8 L1208.5 165.0 L1209.3 162.5 L1210.0 153.8 L1211.0 148.8 L1212.0 147.5 L1213.0 148.8 L1214.0 145.0 L1214.8 143.8 L1215.5 148.8 L1216.3 147.5 L1217.0 158.8 L1217.8 160.0 L1218.5 151.3" fill="none" stroke="#f4f4f6" stroke-width="0.95" stroke-linejoin="round"/>
<rect x="57.9" y="110.8" width="2.25" height="613.6" fill="#ad7905"/>
<rect x="1222.3" y="110.8" width="1.9" height="613.6" fill="#f2f2f4"/>
<rect x="57.2" y="352.9" width="1165.6" height="82.2" fill="#ec1421" fill-opacity="0.3"/>
<rect x="57.2" y="480.6" width="1167.1" height="98.2" fill="#15d444" fill-opacity="0.3"/>
<text class="yl" x="22" y="115.0">1.2K</text>
<text class="yl" x="22" y="237.9">600</text>
<text class="yl" x="22" y="360.1">0</text>
<text class="yl" x="22" y="483.2">-600</text>
<text class="yl" x="22" y="606.0">-1.2K</text>
<text class="yl" x="22" y="728.2">-1.8K</text>
<text class="yr" x="1257.8" y="123.9">$80K</text>
<text class="yr" x="1257.8" y="150.7">$70K</text>
<text class="yr" x="1257.8" y="181.7">$60K</text>
<text class="yr" x="1257.8" y="218.7">$50K</text>
<text class="yr" x="1257.8" y="263.7">$40K</text>
<text class="yr" x="1257.8" y="321.5">$30K</text>
<text class="yr" x="1257.8" y="403.2">$20K</text>
<text class="yr" x="1257.8" y="542.9">$10K</text>
<text class="yr" x="1257.8" y="564.2">$9K</text>
<text class="yr" x="1257.8" y="587.7">$8K</text>
<text class="yr" x="1257.8" y="614.7">$7K</text>
<text class="yr" x="1257.8" y="645.7">$6K</text>
<text class="yr" x="1257.8" y="682.5">$5K</text>
<text class="yr" x="1257.8" y="727.2">$4K</text>
<g opacity="0.07"><text x="490" y="431" font-size="56" fill="#ffffff" stroke="#ffffff" stroke-width="2" textLength="296" lengthAdjust="spacingAndGlyphs">CryptoQuant</text></g>
<path d="M1090.1 753.6 A8.65 8.65 0 0 0 1090.1 770.9 Z" fill="#f6f6fa"/>
<circle cx="1100.25" cy="762.25" r="8.45" fill="#f6f6fa"/>
<path d="M1100.1 764.0 L1103.9 764.4 L1109.5 770.3 L1106.8 772.6 L1100.2 764.9 Z" fill="#101012"/>
<text x="1116.3" y="770.6" font-size="22.4" fill="#f6f6f8" stroke="#f6f6f8" stroke-width="0.55" textLength="132.5" lengthAdjust="spacingAndGlyphs">CryptoQuant</text>
<text x="1118" y="787.8" font-size="9" fill="#8f8f98" textLength="131" lengthAdjust="spacingAndGlyphs">© CryptoQuant All rights reserved.</text>
</svg></body></html>
